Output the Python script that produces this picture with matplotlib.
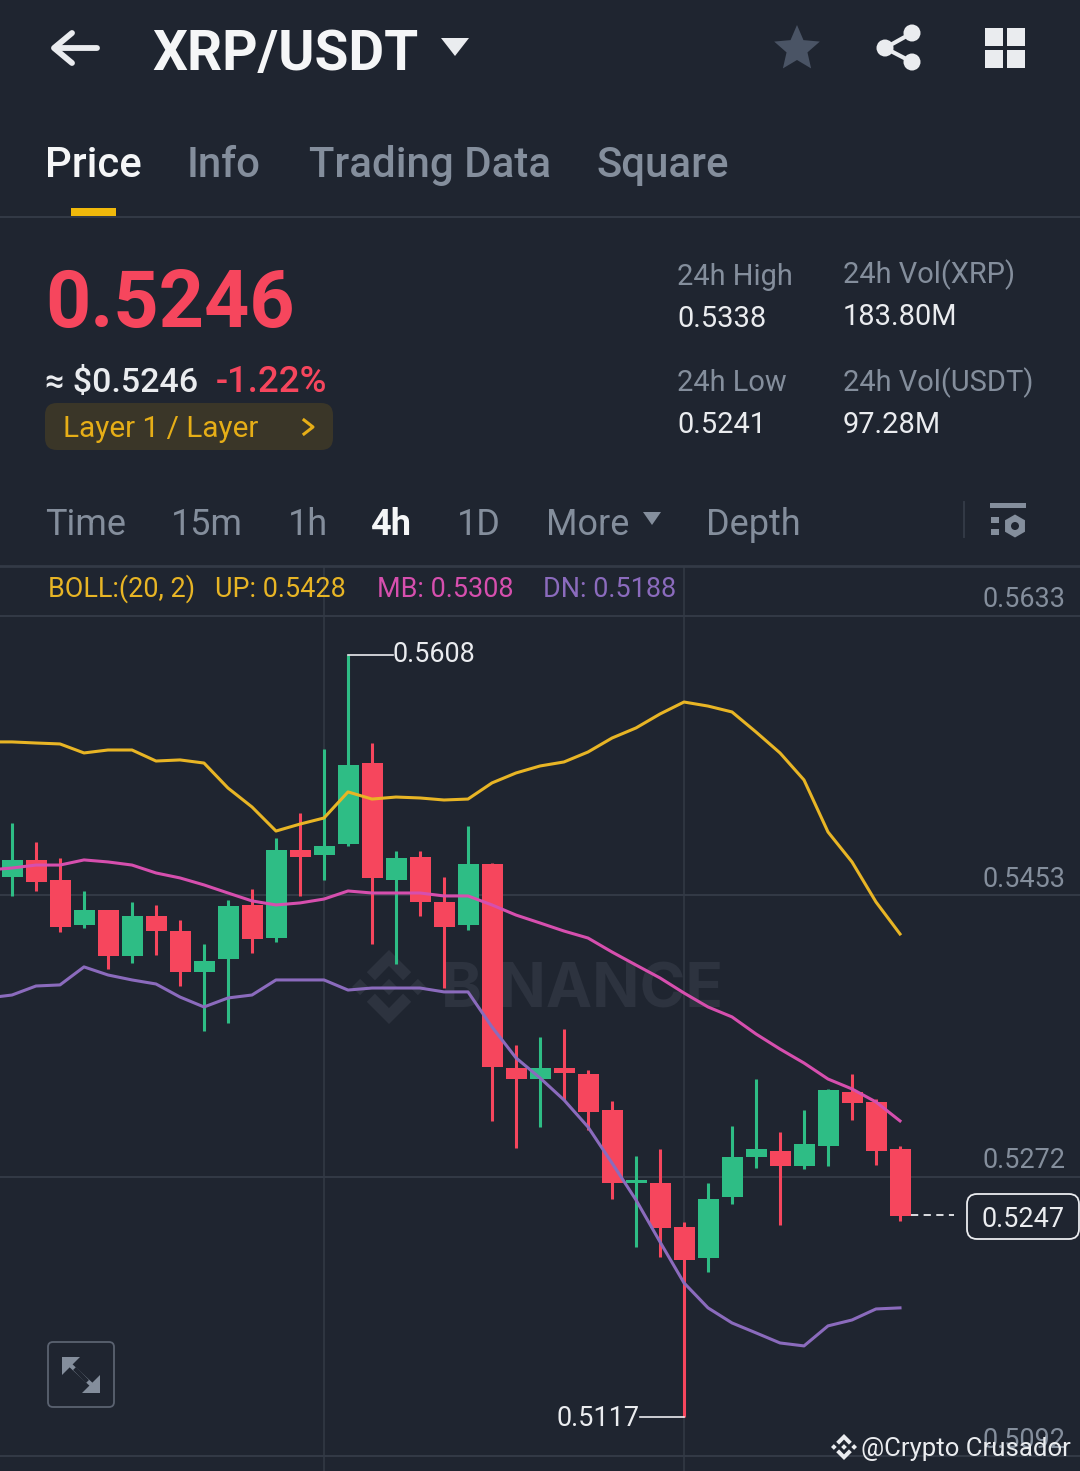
#XRP/USDT 4h chart with Bollinger bands, redrawn from a phone screenshot

import matplotlib
matplotlib.use('Agg')
import matplotlib.pyplot as plt
from matplotlib.patches import Polygon, Circle, Rectangle, FancyBboxPatch, RegularPolygon
import numpy as np

plt.rcParams['font.family'] = ['Roboto', 'DejaVu Sans']

BG = '#1f2530'
GRID = '#333a46'
GRAY = '#848e9c'
LIGHT = '#eaecef'
GREEN = '#2ebd85'
RED = '#f6465d'
YELLOW = '#e8b525'
PINK = '#d64fae'
PURPLE = '#8b6bbd'

#Candles, oldest first
opens = [0.54649, 0.54759, 0.54630, 0.54340, 0.54437, 0.54140, 0.54398, 0.54301, 0.54037, 0.54121,
         0.54469, 0.54256, 0.54823, 0.54791, 0.54862, 0.55383, 0.54630, 0.54778, 0.54488, 0.54340,
         0.54733, 0.53419, 0.53348, 0.53419, 0.53380, 0.53149, 0.52679, 0.52679, 0.52395, 0.52196,
         0.52588, 0.52846, 0.52885, 0.52788, 0.52917, 0.53265, 0.53200, 0.52897]
closes = [0.54759, 0.54617, 0.54327, 0.54437, 0.54140, 0.54398, 0.54301, 0.54037, 0.54108, 0.54462,
          0.54250, 0.54823, 0.54778, 0.54849, 0.55370, 0.54643, 0.54772, 0.54488, 0.54327, 0.54733,
          0.53426, 0.53348, 0.53419, 0.53387, 0.53136, 0.52679, 0.52698, 0.52389, 0.52183, 0.52575,
          0.52846, 0.52897, 0.52788, 0.52930, 0.53277, 0.53194, 0.52885, 0.52466]
highs = [0.54997, 0.54875, 0.54772, 0.54559, 0.54437, 0.54488, 0.54469, 0.54372, 0.54218, 0.54501,
         0.54572, 0.54900, 0.55061, 0.55473, 0.5608, 0.55512, 0.54817, 0.54817, 0.54649, 0.54978,
         0.54739, 0.53567, 0.53619, 0.53670, 0.53406, 0.53207, 0.52852, 0.52897, 0.52427, 0.52679,
         0.53046, 0.53348, 0.53007, 0.53149, 0.53284, 0.53380, 0.53219, 0.52917]
lows = [0.54527, 0.54559, 0.54295, 0.54321, 0.54057, 0.54095, 0.54147, 0.53947, 0.53657, 0.53709,
        0.54160, 0.54231, 0.54527, 0.54630, 0.54849, 0.54218, 0.54089, 0.54398, 0.53934, 0.54308,
        0.53078, 0.52904, 0.53039, 0.53213, 0.53020, 0.52575, 0.52266, 0.52202, 0.5117, 0.52105,
        0.52543, 0.52775, 0.52408, 0.52769, 0.52788, 0.53084, 0.52794, 0.52434]

#Bollinger bands, the first value belongs to the candle just off the left edge
boll_up = [0.55519, 0.55519, 0.55512, 0.55506, 0.55448, 0.55467, 0.55467, 0.55396, 0.55403, 0.55383,
           0.55222, 0.55100, 0.54945, 0.54990, 0.55029, 0.55197, 0.55151, 0.55164, 0.55158, 0.55145,
           0.55151, 0.55255, 0.55319, 0.55364, 0.55390, 0.55454, 0.55544, 0.55609, 0.55699, 0.55776,
           0.55750, 0.55712, 0.55583, 0.55448, 0.55274, 0.54939, 0.54746, 0.54488, 0.54282]
boll_mb = [0.54694, 0.54707, 0.54726, 0.54726, 0.54759, 0.54746, 0.54726, 0.54675, 0.54643, 0.54598,
           0.54546, 0.54495, 0.54469, 0.54482, 0.54507, 0.54559, 0.54546, 0.54546, 0.54546, 0.54527,
           0.54527, 0.54469, 0.54404, 0.54353, 0.54301, 0.54256, 0.54166, 0.54082, 0.53999, 0.53902,
           0.53812, 0.53748, 0.53638, 0.53541, 0.53451, 0.53348, 0.53284, 0.53200, 0.53078]
boll_dn = [0.53870, 0.53889, 0.53947, 0.53954, 0.54070, 0.54018, 0.53986, 0.53960, 0.53876, 0.53812,
           0.53870, 0.53889, 0.53986, 0.53986, 0.53986, 0.53921, 0.53934, 0.53934, 0.53934, 0.53909,
           0.53909, 0.53683, 0.53484, 0.53355, 0.53213, 0.53039, 0.52807, 0.52569, 0.52299, 0.52035,
           0.51874, 0.51777, 0.51713, 0.51648, 0.51629, 0.51758, 0.51796, 0.51867, 0.51874]

price_ticks = [0.5633, 0.5453, 0.5272, 0.5092]
time_grid = [13, 28]
last_price = 0.5247

W, H = 1080, 1471
fig = plt.figure(figsize=(W / 100, H / 100), dpi=100, facecolor=BG)

#Pixel axes behind and in front of the chart, y runs downwards like the screenshot
back = fig.add_axes([0, 0, 1, 1], zorder=0)
ui = fig.add_axes([0, 0, 1, 1], zorder=2)
for a in [back, ui]:
    a.set_xlim(0, W)
    a.set_ylim(H, 0)
    a.axis('off')
back.set_facecolor(BG)
ui.patch.set_alpha(0)

#Chart axes, 24 px per candle and 15527 px per unit of price
top_px, bottom_px = 566, H
ax = fig.add_axes([0, 0, 1, (bottom_px - top_px) / H], zorder=1)
ax.patch.set_alpha(0)
ax.set_xlim(-0.5, 44.5)
ax.set_ylim(0.5092 - 15 / 15527, 0.5633 + 50 / 15527)
ax.axis('off')

for p in price_ticks:
    ax.axhline(p, color=GRID, lw=1.4, zorder=1)
for t in time_grid:
    ax.axvline(t, color=GRID, lw=1.1, zorder=1)

x = np.arange(len(opens))
colors = [GREEN if c >= o else RED for o, c in zip(opens, closes)]
ax.vlines(x, lows, highs, colors=colors, lw=2.2, zorder=2)
ax.bar(x, np.abs(np.array(closes) - np.array(opens)), bottom=np.minimum(opens, closes),
       width=0.875, color=colors, zorder=3)

xb = np.arange(-1, len(opens))
ax.plot(xb, boll_up, color=YELLOW, lw=2.2, zorder=4)
ax.plot(xb, boll_mb, color=PINK, lw=2.2, zorder=4)
ax.plot(xb, boll_dn, color=PURPLE, lw=2.2, zorder=4)


def label(x, y, s, px, color=LIGHT, ha='left', weight='normal', **kw):
    return ui.text(x, y, s, fontsize=px * 0.72, color=color, ha=ha, va='baseline', fontweight=weight, **kw)


def logo(a, cx, cy, r, color):
    top = [(0, -1), (.6, -.4), (.38, -.18), (0, -.57), (-.38, -.18), (-.6, -.4)]
    a.add_patch(Polygon([(cx + r * u, cy + r * v) for u, v in top], color=color, lw=0))
    a.add_patch(Polygon([(cx + r * u, cy - r * v) for u, v in top], color=color, lw=0))
    for dx in [-.78, 0, .78]:
        d = [(dx - .22, 0), (dx, -.22), (dx + .22, 0), (dx, .22)]
        a.add_patch(Polygon([(cx + r * u, cy + r * v) for u, v in d], color=color, lw=0))


#Watermark under the candles
logo(back, 389, 987, 37, '#2d333f')
back.text(441, 1007, 'BINANCE', fontsize=62 * 0.72, color='#2d333f', family='Inter', fontweight='bold', va='baseline')

#Header
ui.plot([55, 97], [48, 48], color=LIGHT, lw=4.2, solid_capstyle='round')
ui.plot([72, 54, 72], [33, 48, 63], color=LIGHT, lw=4.2, solid_capstyle='round', solid_joinstyle='round')
label(152, 70, 'XRP/USDT', 55, color='#f5f6f7', weight='bold')
ui.add_patch(Polygon([(441, 38), (469, 38), (455, 56)], color=LIGHT, lw=0))

ang = np.pi / 2 + np.arange(10) * np.pi / 5
rad = np.where(np.arange(10) % 2 == 0, 24, 11)
star = np.column_stack([797 + rad * np.cos(ang), 49 - rad * np.sin(ang)])
ui.add_patch(Polygon(star, color='#4a5465', lw=0, joinstyle='round'))

ui.plot([912, 885, 912], [33, 48, 62], color=LIGHT, lw=3)
for cx, cy in [(912, 33), (885, 48), (912, 62)]:
    ui.add_patch(Circle((cx, cy), 8.5, color=LIGHT, lw=0))
for sx, sy in [(985, 28), (1007, 28), (985, 50), (1007, 50)]:
    ui.add_patch(Rectangle((sx, sy), 18, 18, color=LIGHT, lw=0))

#Tabs
label(45, 177, 'Price', 42, color='#f5f6f7', weight='medium')
label(187, 177, 'Info', 42, color=GRAY, weight='medium')
label(309, 177, 'Trading Data', 42, color=GRAY, weight='medium')
label(597, 177, 'Square', 42, color=GRAY, weight='medium')
ui.add_patch(Rectangle((71, 208), 45, 8, color='#f0b90b', lw=0))
ui.plot([0, W], [217, 217], color=GRID, lw=1.4)

#Price block
label(45, 327, '0.5246', 79, color=RED, weight='bold')
label(45, 392, '≈ $0.5246', 34, weight='medium')
label(216, 392, '-1.22%', 36.5, color=RED, weight='medium')
ui.add_patch(FancyBboxPatch((53, 411), 272, 31, boxstyle='round,pad=8,rounding_size=12', color='#3a3628', lw=0))
label(63, 437, 'Layer 1 / Layer', 29.7, color='#e6ae17')
ui.plot([304, 313, 304], [420, 427, 434], color='#e6ae17', lw=2.2)

label(677, 285, '24h High', 29, color=GRAY)
label(677, 327, '0.5338', 29)
label(843, 283, '24h Vol(XRP)', 29, color=GRAY)
label(843, 325, '183.80M', 29)
label(677, 391, '24h Low', 29, color=GRAY)
label(677, 433, '0.5241', 29)
label(843, 391, '24h Vol(USDT)', 29, color=GRAY)
label(843, 433, '97.28M', 29)

#Interval row
label(45, 535, 'Time', 36, color=GRAY)
label(171, 535, '15m', 36, color=GRAY)
label(288, 535, '1h', 36, color=GRAY)
label(371, 535, '4h', 36, color='#f5f6f7', weight='bold')
label(457, 535, '1D', 36, color=GRAY)
label(546, 535, 'More', 36, color=GRAY)
ui.add_patch(Polygon([(643, 512), (661, 512), (652, 525)], color=GRAY, lw=0))
label(706, 535, 'Depth', 36, color=GRAY)
ui.plot([964, 964], [502, 537], color=GRID, lw=1.4)
ui.add_patch(Rectangle((990, 503), 36, 5, color=GRAY, lw=0))
ui.add_patch(Rectangle((991, 517), 8, 6, color=GRAY, lw=0))
ui.add_patch(Rectangle((991, 529), 8, 6, color=GRAY, lw=0))
ui.add_patch(RegularPolygon((1015, 526), 6, radius=11.5, color=GRAY, lw=0))
ui.add_patch(Circle((1015, 526), 4, color=BG, lw=0))
ui.plot([0, W], [566, 566], color=GRID, lw=2)

#Indicator legend
label(48, 597, 'BOLL:(20, 2)', 27, color=YELLOW)
label(215, 597, 'UP: 0.5428', 27, color=YELLOW)
label(377, 597, 'MB: 0.5308', 27, color=PINK)
label(543, 597, 'DN: 0.5188', 27, color=PURPLE)

#Price axis labels sit just above their grid lines
for p in price_ticks:
    y_px = ui.transData.inverted().transform(ax.transData.transform((0, p)))[1]
    label(1065, y_px - 8.5, '%.4f' % p, 27, color=GRAY, ha='right')

#High and low markers
y_hi = ui.transData.inverted().transform(ax.transData.transform((0, max(highs))))[1]
y_lo = ui.transData.inverted().transform(ax.transData.transform((0, min(lows))))[1]
ui.plot([348, 393], [y_hi, y_hi], color=LIGHT, lw=1.2)
label(393, y_hi + 7, '%.4f' % max(highs), 27)
ui.plot([640, 684], [y_lo, y_lo], color=LIGHT, lw=1.2)
label(639, y_lo + 9, '%.4f' % min(lows), 27, ha='right')

#Last price box
y_last = ui.transData.inverted().transform(ax.transData.transform((0, last_price)))[1]
ui.plot([911, 954], [y_last, y_last], color=LIGHT, lw=1.3, dashes=(4, 3))
ui.add_patch(FancyBboxPatch((976, 1203), 94, 27, boxstyle='round,pad=9,rounding_size=10', facecolor=BG,
                            edgecolor=LIGHT, lw=1.3))
label(1023, 1227, '%.4f' % last_price, 27, ha='center')

#Expand button
ui.add_patch(FancyBboxPatch((53, 1347), 56, 55, boxstyle='round,pad=5,rounding_size=5', facecolor='none',
                            edgecolor='#5a6270', lw=1.3))
ui.add_patch(Polygon([(62, 1357), (80, 1357), (62, 1375)], color=GRAY, lw=0))
ui.add_patch(Polygon([(100, 1393), (82, 1393), (100, 1375)], color=GRAY, lw=0))
ui.plot([68, 94], [1363, 1387], color=GRAY, lw=3)
ui.plot([76, 86], [1370, 1380], color=BG, lw=3)

#Signature in the corner
logo(ui, 844, 1447, 13, LIGHT)
label(861, 1456, '@Crypto Crusador', 25.8)

fig.savefig('out.png', dpi=100, facecolor=BG)
